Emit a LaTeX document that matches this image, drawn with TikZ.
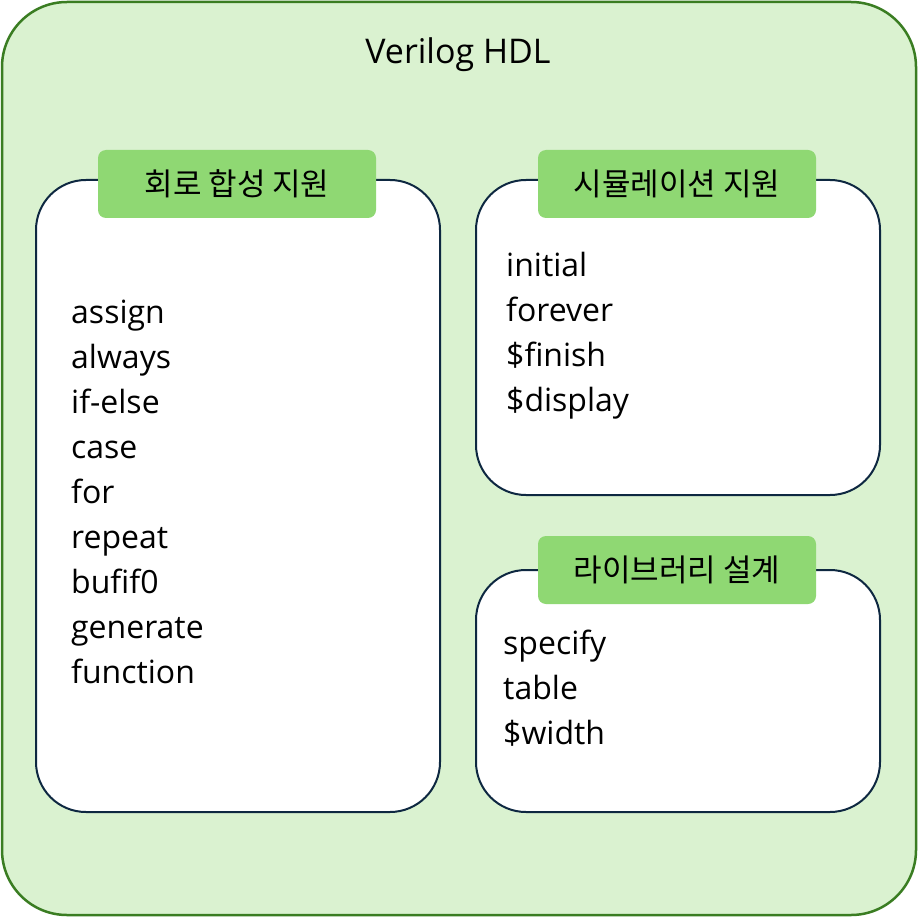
\documentclass[tikz,border=0pt]{standalone}
\usepackage{fontspec}
\setmainfont{Open Sans}
\newfontfamily\kr{Noto Sans CJK KR}
\definecolor{outerfill}{HTML}{DAF2D0}
\definecolor{outerdraw}{HTML}{3A7D22}
\definecolor{boxdraw}{HTML}{0E2841}
\definecolor{tabfill}{HTML}{8FD873}
\begin{document}
\begin{tikzpicture}[x=1pt,y=-1pt,
  panel/.style={draw=boxdraw,line width=2pt,fill=white,rounded corners=50pt},
  tab/.style={fill=tabfill,rounded corners=8pt,minimum width=278pt,minimum height=68pt,font=\kr\fontsize{31}{36}\selectfont},
  list/.style={anchor=north west,align=left,inner sep=0pt,font=\fontsize{32}{45}\selectfont}]
\useasboundingbox (0,0) rectangle (918,917);
\draw[draw=outerdraw,line width=2.5pt,fill=outerfill,rounded corners=65pt] (2,2) rectangle (916,915);
\node[font=\fontsize{34}{40}\selectfont] (title) at (458,55) {Verilog HDL};
\draw[panel] (36,180) rectangle (440,812);
\draw[panel] (476,180) rectangle (880,495);
\draw[panel] (476,570) rectangle (880,812);
\node[tab] (t1) at (237,184) {회로 합성 지원};
\node[tab] (t2) at (677,184) {시뮬레이션 지원};
\node[tab] (t3) at (677,570) {라이브러리 설계};
\node[list] (l1) at (71,300) {assign\\always\\if-else\\case\\for\\repeat\\bufif0\\generate\\function};
\node[list] (l2) at (506,252) {initial\\forever\\\$finish\\\$display};
\node[list] (l3) at (503,630) {specify\\table\\\$width};
\end{tikzpicture}
\end{document}
